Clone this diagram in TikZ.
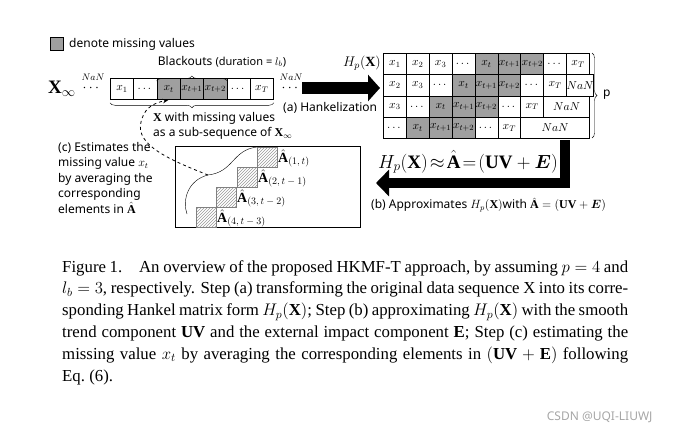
\documentclass[tikz,border=0pt]{standalone}
\usepackage{fix-cm}
\usepackage{amsmath,amssymb}
\usepackage{fontspec}
\setmainfont{Liberation Serif}
\newfontfamily\dsans{Noto Sans}
\usetikzlibrary{patterns,arrows.meta,decorations.pathreplacing}
\begin{document}
\begin{tikzpicture}[x=1pt,y=-1pt,
  cell/.style={draw,thick,minimum width=23.3pt,minimum height=21pt,inner sep=0pt,anchor=north west,font=\fontsize{11.5}{11.5}\selectfont},
  mcell/.style={draw,thick,minimum height=21.25pt,inner sep=0pt,anchor=north west,font=\fontsize{11.5}{11.5}\selectfont},
  gr/.style={fill=gray!75},
  lab/.style={font=\dsans\fontsize{12}{15.5}\selectfont,inner sep=0pt},
  hat/.style={draw=gray,pattern=north east lines,pattern color=gray!80,minimum size=20pt,inner sep=0pt,anchor=north west},
  brc/.style={decorate,decoration={brace,amplitude=5pt},thin}]
\useasboundingbox (0,0) rectangle (675,439);
% legend
\node[draw,fill=gray!75,minimum size=13pt,inner sep=0pt] (leg) at (57,44) {};
\node[lab,anchor=west] (legt) at (69,44) {denote missing values};
% sequence
\node[font=\fontsize{19}{19}\selectfont,inner sep=0pt] (xinf) at (62,89) {$\mathbf{X}_\infty$};
\node[inner sep=0pt,font=\fontsize{14}{14}\selectfont] (dl) at (92,88) {$\cdots$};
\node[inner sep=0pt,font=\fontsize{9.5}{9.5}\selectfont] (nl) at (93,77) {$NaN$};
\node[inner sep=0pt,font=\fontsize{14}{14}\selectfont] (dr) at (291,88) {$\cdots$};
\node[inner sep=0pt,font=\fontsize{9.5}{9.5}\selectfont] (nr) at (291,77) {$NaN$};
\foreach \i/\l/\g in {0/x_1/,1/\dots/,2/x_t/gr,3/x_{t+1}/gr,4/x_{t+2}/gr,5/\dots/,6/x_T/}
  \node[cell,\g] (s\i) at (110+\i*23.3,78) {$\l$};
\draw[brc] ([yshift=-3pt]s2.north west) -- ([yshift=-3pt]s4.north east) coordinate[midway] (bt);
\node[lab,anchor=south] (blk) at (222,67) {\textbf{Blackouts} {\fontsize{11}{11}\selectfont(duration = $l_b$)}};
\draw[brc] ([yshift=-3pt]s6.south east) -- ([yshift=-3pt]s0.south west);
\node[lab,anchor=north west,align=left] (xwm) at (153,112) {$\mathbf{X}$ with missing values\\as a sub-sequence of $\mathbf{X}_\infty$};
% arrow a
\coordinate (a1) at (302,88); \coordinate (a2) at (380,88);
\draw[line width=12pt,-{Triangle[length=12pt,width=26pt]}] (a1) -- (a2);
\node[lab,anchor=west] (ha) at (283,108) {(a) Hankelization};
% matrix
\node[font=\fontsize{14}{14}\selectfont,inner sep=0pt,anchor=east] (hp) at (381,63) {$H_p(\mathbf{X})$};
\foreach \r/\row in {0/{0/1//x_1,1/1//x_2,2/1//x_3,3/1//\dots,4/1/gr/x_t,5/1/gr/x_{t+1},6/1/gr/x_{t+2},7/1//\dots,8/1//x_T},
  1/{0/1//x_2,1/1//x_3,2/1//\dots,3/1/gr/x_t,4/1/gr/x_{t+1},5/1/gr/x_{t+2},6/1//\dots,7/1//x_T,8/1//NaN},
  2/{0/1//x_3,1/1//\dots,2/1/gr/x_t,3/1/gr/x_{t+1},4/1/gr/x_{t+2},5/1//\dots,6/1//x_T,7/2//NaN},
  3/{0/1//\dots,1/1/gr/x_t,2/1/gr/x_{t+1},3/1/gr/x_{t+2},4/1//\dots,5/1//x_T,6/3//NaN}}
  \foreach \c/\s/\g/\l in \row
    \node[mcell,\g,minimum width=\s*22.9pt] (m\r\c) at (383+\c*22.9,53+\r*21.25) {$\l$};
\draw[brc] (592,53) -- (592,138) coordinate[midway] (pb);
\node[lab,anchor=west] (p) at (603,95) {p};
% arrow b
\coordinate (b1) at (565,140); \coordinate (b2) at (376,183);
\draw[line width=10pt,line join=miter,-{Triangle[length=13pt,width=26pt]}] (b1) |- (b2);
\node[font=\fontsize{19}{19}\selectfont,inner sep=0pt,anchor=west] (eq) at (378,162) {$H_p(\mathbf{X})\!\approx\!\hat{\mathbf{A}}\!=\!(\mathbf{UV}+\boldsymbol{E})$};
\node[lab,anchor=west] (hb) at (371,205) {(b) Approximates $H_p(\mathbf{X})$with $\hat{\mathbf{A}}=(\mathbf{UV}+\boldsymbol{E})$};
% box c
\node[draw,thick,minimum width=185pt,minimum height=81pt,inner sep=0pt,anchor=north west] (box) at (175,146) {};
\foreach \k/\x/\y/\t in {1/257/147/{1,t},2/237/167/{2,t-1},3/216/187/{3,t-2},4/196/207/{4,t-3}}{
  \node[hat] (h\k) at (\x,\y) {};
  \node[anchor=west,inner sep=1pt,font=\fontsize{14}{14}\selectfont] (ha\k) at (\x+20,\y+11) {$\hat{\mathbf{A}}$\raisebox{-2pt}{\fontsize{10}{10}\selectfont$(\t)$}};}
\coordinate (tip) at (208,175);
\draw (h1.north west) .. controls (232,150) and (234,172) .. (tip) .. controls (188,180) and (182,200) .. (187,214);
\draw[thick,dashed,-{Stealth[length=6pt]}] (tip) .. controls (170,160) and (135,145) .. (141,122) .. controls (144,110) and (150,104) .. (s2.south);
\node[lab,anchor=north west,align=left] (ct) at (58,142) {(c) Estimates the\\missing value $x_t$\\by averaging the\\corresponding\\elements in $\hat{\mathbf{A}}$};
% caption
\node[anchor=north west,text width=566pt,align=justify,inner sep=0pt,font=\fontsize{16.8}{21.8}\selectfont] (cap) at (62,260)
{Figure 1.\quad An overview of the proposed HKMF-T approach, by assuming $p=4$ and $l_b=3$, respectively. Step (a) transforming the original data sequence X into its corresponding Hankel matrix form $H_p(\mathbf{X})$; Step (b) approximating $H_p(\mathbf{X})$ with the smooth trend component $\mathbf{UV}$ and the external impact component $\mathbf{E}$; Step (c) estimating the missing value $x_t$ by averaging the corresponding elements in $(\mathbf{UV}+\mathbf{E})$ following Eq.~(6).};
\node[anchor=east,text=gray!70,font=\dsans\fontsize{12}{12}\selectfont] (wm) at (656,417) {CSDN @UQI-LIUWJ};
\end{tikzpicture}
\end{document}
